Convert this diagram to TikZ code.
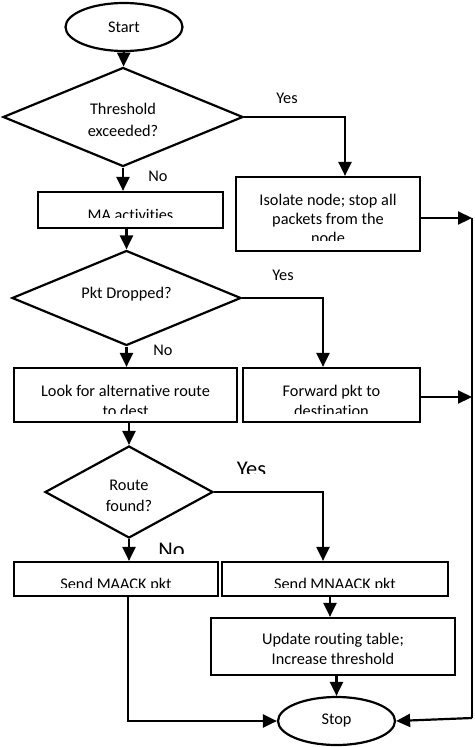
\documentclass[tikz,border=0pt]{standalone}
\usepackage{fontspec}
\setmainfont{Carlito}[Ligatures=NoCommon]
\usetikzlibrary{shapes.geometric,arrows.meta}
\begin{document}
\begin{tikzpicture}[x=1pt,y=-1pt,
  every node/.style={font=\fontsize{16.3}{19.5}\selectfont},
  ln/.style={line width=2.2pt},
  arr/.style={ln,-{Triangle[length=14pt,width=13pt]}},
  boxn/.style={draw,ln,rectangle,inner sep=0pt},
  dec/.style={draw,ln,diamond,inner sep=0pt},
  dtxt/.style={inner sep=0pt,align=center,font=\fontsize{16.3}{21.5}\selectfont},
  term/.style={draw,ln,ellipse,inner sep=0pt},
  txt/.style={inner sep=0pt,anchor=base},
  lbl/.style={inner sep=0pt},
  biglbl/.style={inner sep=0pt,anchor=base,font=\fontsize{22.5}{24}\selectfont}]
\useasboundingbox (0,0) rectangle (474,747);
% nodes
\node[term,minimum width=117pt,minimum height=48pt] (start) at (124,27) {Start};
\node[dec,minimum width=240pt,minimum height=99pt] (d1) at (123,117) {};
\node[dtxt] (d1t) at (123,120) {Threshold\\exceeded?};
\node[boxn,minimum width=184pt,minimum height=74pt] (iso) at (328,214) {};
\node[boxn,minimum width=185pt,minimum height=36pt] (ma) at (130.5,210) {};
\node[dec,minimum width=229pt,minimum height=95pt] (d2) at (126.5,298) {};
\node[dtxt] (d2t) at (126.5,294) {Pkt Dropped?};
\node[boxn,minimum width=223pt,minimum height=54pt] (look) at (125.5,395) {};
\node[boxn,minimum width=177pt,minimum height=54pt] (fwd) at (331.5,395) {};
\node[dec,minimum width=168pt,minimum height=92pt] (d3) at (129,492) {};
\node[dtxt] (d3t) at (129,496) {Route\\found?};
\node[boxn,minimum width=204pt,minimum height=34pt] (maack) at (116,579) {};
\node[boxn,minimum width=226pt,minimum height=34pt] (mnaack) at (335,579) {};
\node[boxn,minimum width=244pt,minimum height=57pt] (upd) at (333,646.5) {};
\node[inner sep=0pt,align=center] (updt) at (333,649) {Update routing table;\\Increase threshold};
\node[term,minimum width=117pt,minimum height=48pt] (stop) at (336.5,721) {Stop};
% clipped box texts
\node[txt] (isot1) at (328,205) {Isolate node; stop all};
\node[txt] (isot2) at (328,224) {packets from the};
\begin{scope}
\clip (236,180) rectangle (420,240);
\node[txt] (isot3) at (328,243.5) {node};
\end{scope}
\begin{scope}
\clip (40,195) rectangle (221,217);
\node[txt] (mat) at (130.5,220) {MA activities};
\end{scope}
\node[txt] (lookt1) at (125.5,396) {Look for alternative route};
\begin{scope}
\clip (16,398) rectangle (235,413);
\node[txt] (lookt2) at (125.5,416) {to dest};
\end{scope}
\node[txt] (fwdt1) at (331.5,396) {Forward pkt to};
\begin{scope}
\clip (245,398) rectangle (418,413);
\node[txt] (fwdt2) at (331.5,416) {destination};
\end{scope}
\begin{scope}
\clip (16,564) rectangle (216,587);
\node[txt] (maackt) at (116,589.5) {Send MAACK pkt};
\end{scope}
\begin{scope}
\clip (224,564) rectangle (446,587);
\node[txt] (mnaackt) at (335,589.5) {Send MNAACK pkt};
\end{scope}
% labels
\node[lbl] (y1) at (287,98) {Yes};
\node[lbl] (n1) at (158,176) {No};
\node[lbl] (y2) at (283,275) {Yes};
\node[lbl] (n2) at (163,350) {No};
\begin{scope}
\clip (225,450) rectangle (280,473);
\node[biglbl] (y3) at (251.5,476.5) {Yes};
\end{scope}
\begin{scope}
\clip (150,535) rectangle (200,553);
\node[biglbl] (n3) at (171.5,557.5) {No};
\end{scope}
% right collector line
\coordinate (r1) at (472,218);
\coordinate (r2) at (472,397);
\coordinate (r3) at (472,718);
% connectors
\draw[arr] (start) -- (d1);
\draw[arr] (d1.east) -| (iso.north -| 345,0);
\draw[arr] (d1.south) -- (d1.south |- ma.north);
\draw[arr] (ma.south -| d2.north) -- (d2.north);
\draw[arr] (d2.east) -| (fwd.north -| 323,0);
\draw[arr] (d2.south) -- (d2.south |- look.north);
\draw[arr] (look.south -| d3.north) -- (d3.north);
\draw[arr] (d3.east) -| (mnaack.north -| 323,0);
\draw[arr] (d3.south) -- (d3.south |- maack.north);
\draw[arr] (mnaack.south -| 330,0) -- (upd.north -| 330,0);
\draw[arr] (upd.south -| stop.north) -- (stop.north);
\draw[arr] (iso.east |- r1) -- (r1);
\draw[arr] (fwd.east |- r2) -- (r2);
\draw[ln] (r1) -- (r3);
\draw[arr] (r3) -- (stop.east);
\draw[arr] (maack.south -| 128,0) |- (stop.west);
\end{tikzpicture}
\end{document}
